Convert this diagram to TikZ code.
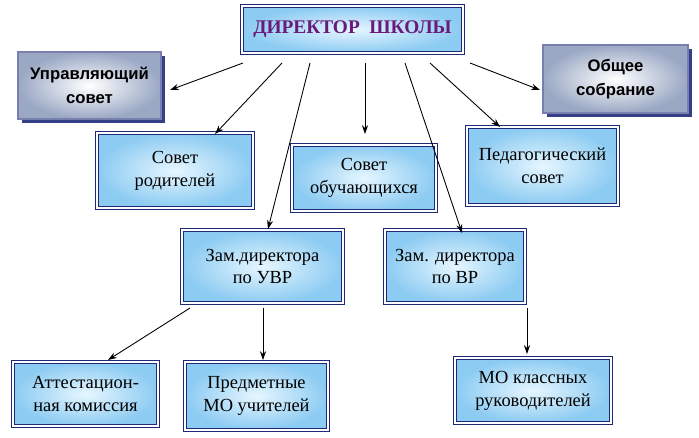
\documentclass[tikz,border=0pt]{standalone}
\usepackage{fontspec}
\setmainfont{Liberation Serif}
\newfontfamily\serifr{Liberation Serif}
\newfontfamily\sansb{Liberation Sans}
\usetikzlibrary{shadows,arrows.meta}
\definecolor{navy}{HTML}{1E2A78}
\definecolor{lb}{HTML}{8CCBF2}
\definecolor{lc}{HTML}{E6F6FF}
\definecolor{gb}{HTML}{9AA8C4}
\tikzset{
 x=0.02cm,y=-0.02cm,
 bx/.style={draw=navy,line width=0.7pt,double=white,double distance=0.6pt,inner color=lc,outer color=lb,
   drop shadow={shadow xshift=1.2pt,shadow yshift=-1.2pt,fill=navy!70,opacity=0.8},
   align=center,font=\serifr\fontsize{10.5}{13}\selectfont},
 gbx/.style={draw=navy!60,line width=0.6pt,inner color=white,outer color=gb,
   drop shadow={shadow xshift=2pt,shadow yshift=-2pt,fill=navy,opacity=0.9},
   align=center,font=\sansb\bfseries\fontsize{9.5}{14}\selectfont},
 ar/.style={-{Stealth[length=5pt,width=3.5pt]},line width=0.5pt},
}
\newcommand\bxat[7]{\node[#1,minimum width={(#4-#3)*0.02cm},minimum height={(#6-#5)*0.02cm}] (#2) at ({(#3+#4)/2},{(#5+#6)/2}) {#7};}
\begin{document}
\begin{tikzpicture}
\useasboundingbox (0,0) rectangle (699,438);
\bxat{bx}{dir}{242}{463}{6}{53}{\fontsize{11}{12}\selectfont\bfseries\color[HTML]{6A1B7A}ДИРЕКТОР\ \ ШКОЛЫ}
\bxat{gbx}{upr}{18}{161}{52}{119}{Управляющий\\совет}
\bxat{gbx}{obs}{543}{688}{45}{113}{Общее\\собрание}
\bxat{bx}{rod}{97}{253}{133}{208}{Совет\\родителей}
\bxat{bx}{obu}{292}{436}{145}{211}{Совет\\обучающихся}
\bxat{bx}{ped}{467}{618}{127}{205}{Педагогический\\совет}
\bxat{bx}{uvr}{182}{343}{230}{303}{Зам.директора\\по УВР}
\bxat{bx}{vr}{385}{525}{230}{303}{Зам. директора\\по ВР}
\bxat{bx}{att}{13}{158}{362}{426}{Аттестацион-\\ная комиссия}
\bxat{bx}{pmo}{185}{328}{362}{430}{Предметные\\МО учителей}
\bxat{bx}{mok}{455}{611}{358}{423}{МО классных\\руководителей}
\coordinate (d1) at (243,63);
\coordinate (d2) at (282,63);
\coordinate (d3) at (310,63);
\coordinate (d4) at (365,63);
\coordinate (d5) at (405,63);
\coordinate (d6) at (430,63);
\coordinate (d7) at (470,63);
\coordinate (u1) at (190,308);
\coordinate (u2) at (263,308);
\coordinate (v1) at (527,308);
\draw[ar] (d1) -- (170,90);
\draw[ar] (d2) -- (215,134);
\draw[ar] (d3) -- (268,229);
\draw[ar] (d4) -- (365,134);
\draw[ar] (d5) -- (462,233);
\draw[ar] (d6) -- (500,127);
\draw[ar] (d7) -- (540,90);
\draw[ar] (u1) -- (108,360);
\draw[ar] (u2) -- (263,360);
\draw[ar] (v1) -- (527,354);
\end{tikzpicture}
\end{document}
